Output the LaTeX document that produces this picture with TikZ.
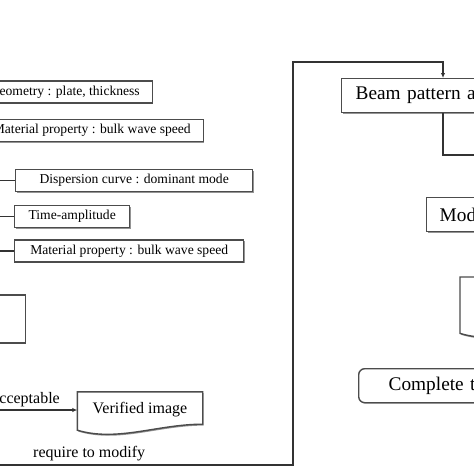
\documentclass[tikz,border=0pt]{standalone}
\usepackage{fontspec}
\setmainfont{Liberation Serif}
\usetikzlibrary{arrows.meta,positioning,calc,shadows,backgrounds}
\tikzset{
  box/.style={draw=black!70,line width=1.4pt,fill=white,minimum height=22pt,
              inner xsep=0pt,font=\fontsize{13.6}{15}\selectfont,
              drop shadow={shadow xshift=1pt,shadow yshift=-1pt,fill=black!60,opacity=.7}},
  bigbox/.style={box,minimum height=34pt,inner xsep=14pt,align=left,
              font=\fontsize{19.3}{22}\selectfont},
  docbox/.style={inner sep=0pt,font=\fontsize{16}{18}\selectfont},
  docline/.style={draw=black!70,line width=1.4pt,fill=white,
              drop shadow={shadow xshift=1pt,shadow yshift=-1.4pt,fill=black!60,opacity=.7}},
  wire/.style={draw=black!80,line width=1.2pt},
  flow/.style={wire,-{Latex[length=5pt,width=4.5pt]}},
  lbl/.style={font=\fontsize{16}{18}\selectfont,inner sep=0pt},
}
\begin{document}
\begin{tikzpicture}[x=1pt,y=-1pt]
  \useasboundingbox (0,0) rectangle (474,474);
  \clip (0,0) rectangle (474,474);
  \node[box,anchor=east,minimum width=175pt] (geom) at (153,92) {Geometry : plate, thickness};
  \node[box,anchor=east,minimum width=223pt] (matA) at (204,130.5) {Material property : bulk wave speed};
  \node[box,anchor=west,minimum width=237pt] (disp) at (15,180.5) {Dispersion curve : dominant mode};
  \node[box,anchor=west,minimum width=115pt] (tamp) at (14,216.5) {Time-amplitude};
  \node[box,anchor=west,minimum width=229pt] (matB) at (14,251) {Material property : bulk wave speed};
  \node[box,anchor=east,minimum width=60pt,minimum height=48pt] (lbox) at (26,319) {};
  \coordinate (sp) at (-6,0);
  \foreach \n in {disp,tamp,matB}{\draw[wire] (\n.west) -- (\n.west -| sp);}
  % verified output
  \node[docbox,minimum width=125pt,minimum height=36pt] (veri) at (140,410) {Verified image};
  \coordinate (accin) at (-6,410);
  \draw[flow] (accin) -- (veri.west);
  \node[lbl,anchor=base east] (acc) at (60,403) {Acceptable};
  \node[lbl,anchor=base west] (req) at (33,457) {require to modify};
  % loop back to the right column
  \coordinate (lb) at (-6,465);
  \coordinate (br) at (293,465);
  \coordinate (tl) at (293,62);
  \coordinate (tr) at (443,62);
  \node[bigbox,anchor=north west,text width=160pt] (beam) at (341,78) {Beam pattern a};
  \draw[flow] (lb) -- (br) -- (tl) -- (tr) -- (tr |- beam.north);
  \coordinate (bt) at (443,155);
  \coordinate (be) at (480,155);
  \draw[wire] (beam.south -| bt) -- (bt) -- (be);
  \node[bigbox,anchor=north west,text width=80pt,inner xsep=13pt] (mod) at (426,197) {Mod};
  \node[docbox,anchor=north west,minimum width=120pt,minimum height=54pt] (rdoc) at (460,277) {};
  \node[bigbox,rounded corners=6pt,anchor=north west,text width=110pt,inner xsep=30pt] (compl) at (358,368) {Complete t};
  \begin{scope}[on background layer]
    \draw[docline] ($(veri.south west)+(0,2)$) coordinate (vsw) -- (veri.north west)
      -- (veri.north east) -- ($(veri.south east)+(0,-4)$) .. controls +(-45,0) and +(40,12) .. (vsw) -- cycle;
    \draw[docline] ($(rdoc.south west)+(0,2)$) coordinate (rsw) -- (rdoc.north west)
      -- (rdoc.north east) -- ($(rdoc.south east)+(0,-4)$) .. controls +(-45,0) and +(40,12) .. (rsw) -- cycle;
  \end{scope}
\end{tikzpicture}
\end{document}
